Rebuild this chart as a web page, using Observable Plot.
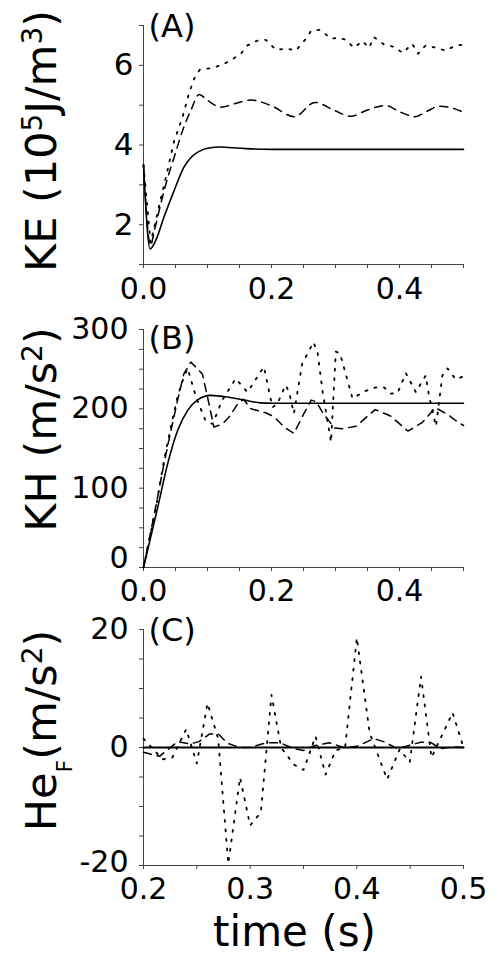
<!DOCTYPE html>
<html><head><meta charset="utf-8">
<script src="https://cdn.jsdelivr.net/npm/d3@7"></script>
<script src="https://cdn.jsdelivr.net/npm/@observablehq/plot@0.6"></script>
<style>
html,body{margin:0;padding:0;background:#fff;}
#chart{width:498px;}
#chart svg{display:block;}
</style></head><body><div id="chart"></div>
<script>
// ---------- Panel A: KE (10^5 J/m^3) ----------
const keSolidT = [0, 0.0103, 0.019, 0.032, 0.048, 0.063, 0.075, 0.087, 0.10, 0.121, 0.14, 0.16, 0.2, 0.3, 0.4, 0.5];
const keSolid  = [3.5, 1.39, 1.6, 2.19, 2.86, 3.44, 3.7, 3.84, 3.92, 3.95, 3.93, 3.91, 3.89, 3.89, 3.89, 3.89];
const keDashT  = [0, 0.011, 0.017, 0.027, 0.038, 0.048, 0.063, 0.074, 0.087, 0.10, 0.121, 0.145, 0.168, 0.199, 0.236, 0.268, 0.298, 0.324, 0.35, 0.378, 0.402, 0.425, 0.44, 0.462, 0.488, 0.5];
const keDash   = [3.5, 1.48, 1.85, 2.52, 3.19, 3.7, 4.45, 4.87, 5.27, 5.12, 4.95, 5.05, 5.13, 4.99, 4.71, 5.07, 4.87, 4.72, 4.88, 4.99, 4.82, 4.71, 4.82, 4.97, 4.9, 4.82];
const keDotT   = [0, 0.011, 0.017, 0.027, 0.038, 0.048, 0.061, 0.071, 0.079, 0.088, 0.105, 0.121, 0.136, 0.152, 0.1625, 0.178, 0.191, 0.207, 0.225, 0.238, 0.254, 0.262, 0.276, 0.293, 0.306, 0.316, 0.329, 0.342, 0.3525, 0.36, 0.376, 0.392, 0.405, 0.42, 0.429, 0.441, 0.457, 0.472, 0.488, 0.5];
const keDot    = [3.5, 1.55, 1.95, 2.65, 3.4, 4.11, 4.70, 5.29, 5.66, 5.89, 5.93, 6.0, 6.12, 6.29, 6.50, 6.62, 6.64, 6.39, 6.42, 6.37, 6.67, 6.87, 6.89, 6.67, 6.69, 6.64, 6.44, 6.61, 6.44, 6.71, 6.52, 6.46, 6.31, 6.54, 6.29, 6.50, 6.44, 6.37, 6.50, 6.52];
const keXTicks  = [0, 0.05, 0.1, 0.15, 0.2, 0.25, 0.3, 0.35, 0.4, 0.45, 0.5];
const keXLabels = [0, 0.2, 0.4];
const keYTicks  = [1, 2, 3, 4, 5, 6, 7];
const keYLabels = [2, 4, 6];
const keYLabelsLow = [];

// ---------- Panel B: KH (m/s^2) ----------
const khSolidT = [0, 0.022, 0.0375, 0.053, 0.069, 0.084, 0.105, 0.131, 0.157, 0.183, 0.2, 0.3, 0.4, 0.5];
const khSolid  = [0, 75, 130, 172, 198, 211, 217, 215, 211, 207.5, 207, 207, 207, 207];
const khDashT  = [0, 0.02, 0.032, 0.043, 0.053, 0.063, 0.074, 0.092, 0.1, 0.105, 0.110, 0.1235, 0.134, 0.147, 0.156, 0.168, 0.191, 0.204, 0.22, 0.235, 0.248, 0.262, 0.27, 0.28, 0.298, 0.311, 0.332, 0.362, 0.386, 0.413, 0.436, 0.456, 0.477, 0.488, 0.5];
const khDash   = [0, 80, 131, 173, 210, 244, 259, 244, 215, 196, 177, 181, 190, 206, 212, 200, 195, 190, 177, 169, 190, 211, 209, 195, 176, 175, 178, 199, 191, 172, 183, 201.5, 192, 185, 179];
const khDotT   = [0, 0.02, 0.032, 0.043, 0.053, 0.063, 0.069, 0.082, 0.097, 0.108, 0.123, 0.144, 0.1625, 0.188, 0.2015, 0.209, 0.222, 0.2275, 0.235, 0.248, 0.2656, 0.272, 0.28, 0.293, 0.3005, 0.307, 0.3266, 0.345, 0.363, 0.376, 0.386, 0.397, 0.41, 0.4255, 0.441, 0.446, 0.457, 0.467, 0.475, 0.488, 0.5];
const khDot    = [0, 78, 135, 178, 215, 240, 251, 215, 185, 181, 211, 238, 221, 253, 202, 206, 230, 221, 194, 257, 284, 271, 221, 158, 272, 270, 213, 222, 227, 227, 219, 220, 245, 221, 242, 217, 178, 242, 251, 237, 241];
const khXTicks  = [0, 0.05, 0.1, 0.15, 0.2, 0.25, 0.3, 0.35, 0.4, 0.45, 0.5];
const khXLabels = [0, 0.2, 0.4];
const khYTicks  = [0, 25, 50, 75, 100, 125, 150, 175, 200, 225, 250, 275, 300];
const khYLabels = [100, 200, 300];
const khYLabelsLow = [0];

// ---------- Panel C: He_F (m/s^2) ----------
const heSolidT = [0.2, 0.3, 0.4, 0.5];
const heSolid  = [0, 0, 0, 0];
const heDashT  = [0.200, 0.215, 0.232, 0.244, 0.252, 0.262, 0.270, 0.279, 0.290, 0.300, 0.315, 0.328, 0.341, 0.350, 0.360, 0.374, 0.388, 0.400, 0.416, 0.425, 0.438, 0.450, 0.460, 0.470, 0.478, 0.490, 0.500];
const heDash   = [-0.8, -1.5, 1.0, 0.6, 1.0, 2.3, 2.3, 0.7, 0.0, 0.0, 0.8, 0.8, -0.2, -0.5, 0.3, 0.8, 0.0, 0.2, 1.5, 1.0, -0.2, 0.4, 0.9, 0.8, -0.2, 0.1, 0.0];
const heDotT   = [0.200, 0.218, 0.227, 0.240, 0.250, 0.260, 0.270, 0.2795, 0.2905, 0.300, 0.310, 0.320, 0.329, 0.341, 0.350, 0.3613, 0.3707, 0.380, 0.389, 0.400, 0.412, 0.4284, 0.4402, 0.4496, 0.4602, 0.470, 0.4898, 0.500];
const heDot    = [1.5, -2.0, -1.7, 3.1, -2.7, 7.5, 1.5, -19.7, -5.1, -13.2, -11.0, 8.9, 0.0, -2.9, -3.8, 1.9, -4.6, -0.5, 0.0, 18.6, 2.5, -5.4, -0.3, -2.5, 12.0, -1.7, 5.9, 0.0];
const heXTicks  = [0.2, 0.25, 0.3, 0.35, 0.4, 0.45, 0.5];
const heXLabels = [0.2, 0.3, 0.4, 0.5];
const heYTicks  = [-20, -15, -10, -5, 0, 5, 10, 15, 20];
const heYLabels = [0, 20];
const heYLabelsLow = [-20];

// ---------- helpers ----------
const rows = (t, v) => t.map((d, i) => ({t: d, v: v[i]}));
const FONT = "DejaVu Sans";
const AXIS = "#444";

function panel(o) {
  const [x0] = o.xDomain, [y0] = o.yDomain;
  const marks = [
    Plot.axisX({ticks: o.xTicks, tickSize: 4, tickFormat: () => "", label: null, stroke: AXIS}),
    Plot.axisX({ticks: o.xLabels, tickSize: 0, tickPadding: o.xPad, fontSize: 30, tickFormat: d3.format(".1f"), label: null}),
    Plot.axisY({ticks: o.yTicks, tickSize: 4, tickFormat: () => "", label: null, stroke: AXIS}),
    Plot.axisY({ticks: o.yLabels, tickSize: 0, tickPadding: o.yPad, fontSize: o.yFont, tickFormat: d => String(d), label: null}),
    Plot.ruleX([x0], {stroke: AXIS, strokeWidth: 1}),
    Plot.ruleY([y0], {stroke: AXIS, strokeWidth: 1}),
    Plot.line(rows(o.solidT, o.solid), {x: "t", y: "v", stroke: "#000", strokeWidth: o.solidW || 1.6, curve: o.solidCurve || "linear"}),
    Plot.line(rows(o.dashT, o.dash), {x: "t", y: "v", stroke: "#000", strokeWidth: 1.5, strokeDasharray: "8,6", curve: o.dashCurve || "linear"}),
    Plot.line(rows(o.dotT, o.dot), {x: "t", y: "v", stroke: "#000", strokeWidth: 1.8, strokeDasharray: "2,7.5"}),
    Plot.text([o.tag], {text: d => d, frameAnchor: "top-left", dx: 5, dy: o.tagDy, textAnchor: "start", lineAnchor: "bottom", fontSize: 32}),
    Plot.text(["__ylabel__"], {text: d => d, frameAnchor: "left", dx: -88, dy: o.labelDy, rotate: -90, textAnchor: "middle", lineAnchor: "bottom", fontSize: 43})
  ];
  if (o.yLabelsLow.length) {
    // lowest tick label sits a little higher than its tick, as in the reference
    marks.push(Plot.axisY({ticks: o.yLabelsLow, tickSize: 0, tickPadding: o.yPad, fontSize: o.yFont, tickFormat: d => String(d), label: null, dy: o.lowDy}));
  }
  if (o.extra) marks.push(...o.extra);
  const svg = Plot.plot({
    width: 498, height: o.height,
    marginTop: o.mt, marginBottom: o.mb, marginLeft: 143, marginRight: 35,
    x: {domain: o.xDomain},
    y: {domain: o.yDomain},
    style: {fontFamily: FONT, background: "#fff", color: "#000", overflow: "visible"},
    marks
  });
  // rich y label (superscripts / subscripts)
  const t = d3.select(svg).selectAll("text").filter(function () { return this.textContent === "__ylabel__"; });
  t.text(null);
  let shift = 0;
  for (const [s, kind] of o.label) {
    const target = kind === "sup" ? -14 : kind === "sub" ? 16 : 0;
    const ts = t.append("tspan").text(s).attr("dy", target - shift);
    if (kind === "sup") ts.attr("font-size", 28);
    if (kind === "sub") ts.attr("font-size", 22);
    shift = target;
  }
  return svg;
}

const chart = document.getElementById("chart");

chart.appendChild(panel({
  height: 300, mt: 25, mb: 36,
  xDomain: [0, 0.5], yDomain: [1, 7],
  xTicks: keXTicks, xLabels: keXLabels, xPad: 13,
  yTicks: keYTicks, yLabels: keYLabels, yLabelsLow: keYLabelsLow, lowDy: 0, yPad: 10, yFont: 31,
  solidT: keSolidT, solid: keSolid, solidCurve: "monotone-x",
  dashT: keDashT, dash: keDash, dashCurve: "monotone-x",
  dotT: keDotT, dot: keDot,
  tag: "(A)", tagDy: 11, labelDy: -4,
  label: [["KE (10", ""], ["5", "sup"], ["J/m", ""], ["3", "sup"], [")", ""]]
}));

chart.appendChild(panel({
  height: 310, mt: 29, mb: 43,
  xDomain: [0, 0.5], yDomain: [0, 300],
  xTicks: khXTicks, xLabels: khXLabels, xPad: 12,
  yTicks: khYTicks, yLabels: khYLabels, yLabelsLow: khYLabelsLow, lowDy: -9, yPad: 15, yFont: 30,
  solidT: khSolidT, solid: khSolid, solidCurve: "monotone-x",
  dashT: khDashT, dash: khDash,
  dotT: khDotT, dot: khDot,
  tag: "(B)", tagDy: 19, labelDy: -19,
  label: [["KH (m/s", ""], ["2", "sup"], [")", ""]]
}));

chart.appendChild(panel({
  height: 355, mt: 19, mb: 100,
  xDomain: [0.2, 0.5], yDomain: [-20, 20],
  xTicks: heXTicks, xLabels: heXLabels, xPad: 12,
  yTicks: heYTicks, yLabels: heYLabels, yLabelsLow: heYLabelsLow, lowDy: -3, yPad: 15, yFont: 30,
  solidT: heSolidT, solid: heSolid, solidW: 2.2,
  dashT: heDashT, dash: heDash,
  dotT: heDotT, dot: heDot,
  tag: "(C)", tagDy: 11, labelDy: -17,
  label: [["He", ""], ["F", "sub"], ["(m/s", ""], ["2", "sup"], [")", ""]],
  extra: [Plot.text(["time (s)"], {text: d => d, frameAnchor: "bottom", dx: -9, dy: 80, textAnchor: "middle", lineAnchor: "bottom", fontSize: 42})]
}));
</script></body></html>
